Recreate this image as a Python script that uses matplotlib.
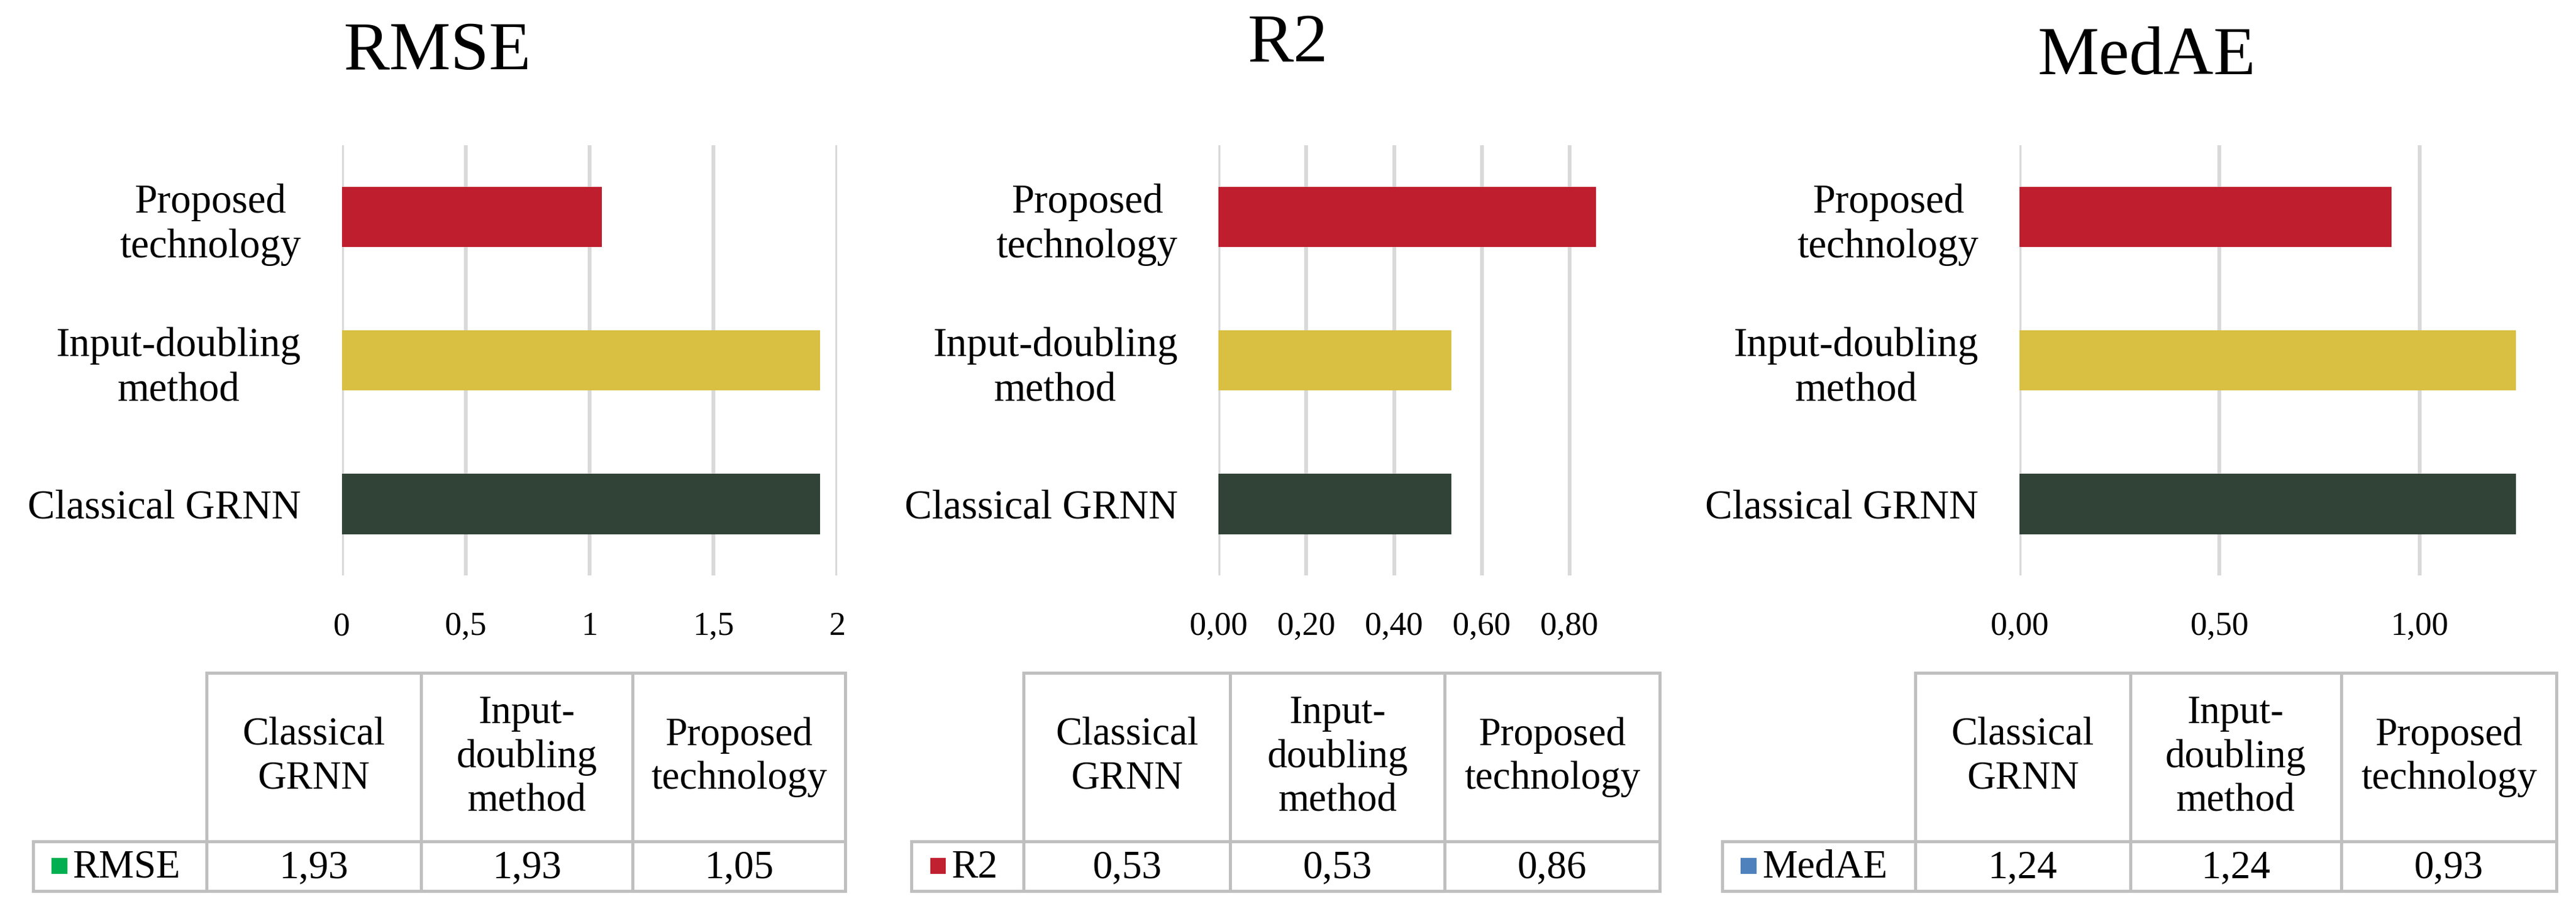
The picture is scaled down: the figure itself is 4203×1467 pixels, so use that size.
import matplotlib.pyplot as plt
from matplotlib.patches import Rectangle

plt.rcParams['font.family'] = ['Liberation Serif', 'DejaVu Serif']

categories = ['Classical GRNN', 'Input-doubling\nmethod', 'Proposed\ntechnology']
table_headers = ['Classical\nGRNN', 'Input-\ndoubling\nmethod', 'Proposed\ntechnology']
metrics = ['RMSE', 'R2', 'MedAE']
rmse = [1.93, 1.93, 1.05]
r2 = [0.53, 0.53, 0.86]
medae = [1.24, 1.24, 0.93]
values = [rmse, r2, medae]
xlims = [2.0, 0.9, 1.3]
xticks = [[0, 0.5, 1, 1.5, 2], [0, 0.2, 0.4, 0.6, 0.8], [0, 0.5, 1.0]]
tick_fmt = [lambda v: f'{v:g}'.replace('.', ','),
            lambda v: f'{v:.2f}'.replace('.', ','),
            lambda v: f'{v:.2f}'.replace('.', ',')]
marker_colors = ['#00B050', '#C0202F', '#4F81BD']
bar_colors = ['#314237', '#D9BF42', '#BF1E2E']
grid_c = '#D9D9D9'

W, H = 1560, 545  # layout units (scaled view of figure)
fig = plt.figure(figsize=(4203 / 300, 1467 / 300), dpi=300)

ax_x = [(207, 507), (738, 977), (1223, 1538)]
ax_top, ax_bot = 88, 349
title_pos = [(265, 32), (780, 27), (1300, 35)]
tab_cols = [(20, [125, 255, 383, 512]), (552, [620, 745, 875, 1005]), (1043, [1160, 1290, 1418, 1548])]
tab_top, tab_mid, tab_bot = 408, 510, 540

for i in range(3):
    x0, x1 = ax_x[i]
    ax = fig.add_axes([x0 / W, 1 - ax_bot / H, (x1 - x0) / W, (ax_bot - ax_top) / H])
    ax.barh(range(3), values[i], height=0.42, color=bar_colors, zorder=3)
    ax.set_xlim(0, xlims[i])
    ax.set_ylim(-0.5, 2.5)
    ax.set_xticks(xticks[i])
    ax.set_xticklabels([tick_fmt[i](v) for v in xticks[i]], fontsize=13)
    ax.set_yticks(range(3))
    ax.set_yticklabels(categories, fontsize=16, linespacing=1.25, multialignment='center')
    ax.tick_params(length=0, pad=14)
    ax.tick_params(axis='y', pad=16)
    ax.grid(axis='x', color=grid_c, linewidth=1.5, zorder=0)
    for s in ax.spines.values():
        s.set_visible(False)
    ax.axvline(0, color=grid_c, linewidth=1.5, zorder=1)
    fig.text(title_pos[i][0] / W, 1 - title_pos[i][1] / H, metrics[i], fontsize=27,
             ha='center', va='center')

ov = fig.add_axes([0, 0, 1, 1])
ov.set_xlim(0, W)
ov.set_ylim(H, 0)
ov.axis('off')
lc = '#BFBFBF'
for i in range(3):
    lx, edges = tab_cols[i]
    ov.plot([edges[0], edges[-1]], [tab_top, tab_top], color=lc, lw=1.2)
    ov.plot([lx, edges[-1]], [tab_mid, tab_mid], color=lc, lw=1.2)
    ov.plot([lx, edges[-1]], [tab_bot, tab_bot], color=lc, lw=1.2)
    for e in edges:
        ov.plot([e, e], [tab_top, tab_bot], color=lc, lw=1.2)
    ov.plot([lx, lx], [tab_mid, tab_bot], color=lc, lw=1.2)
    for j in range(3):
        cx = (edges[j] + edges[j + 1]) / 2
        ov.text(cx, (tab_top + tab_mid) / 2, table_headers[j], ha='center', va='center',
                fontsize=15.5, linespacing=1.25)
        ov.text(cx, (tab_mid + tab_bot) / 2 + 1, f'{values[i][j]:.2f}'.replace('.', ','),
                ha='center', va='center', fontsize=15.5)
    ov.add_patch(Rectangle((lx + 12, (tab_mid + tab_bot) / 2 - 4), 8, 8,
                           color=marker_colors[i]))
    ov.text(lx + 24, (tab_mid + tab_bot) / 2 + 1, metrics[i], ha='left', va='center', fontsize=15.5)

fig.savefig('out.png', dpi=300)
